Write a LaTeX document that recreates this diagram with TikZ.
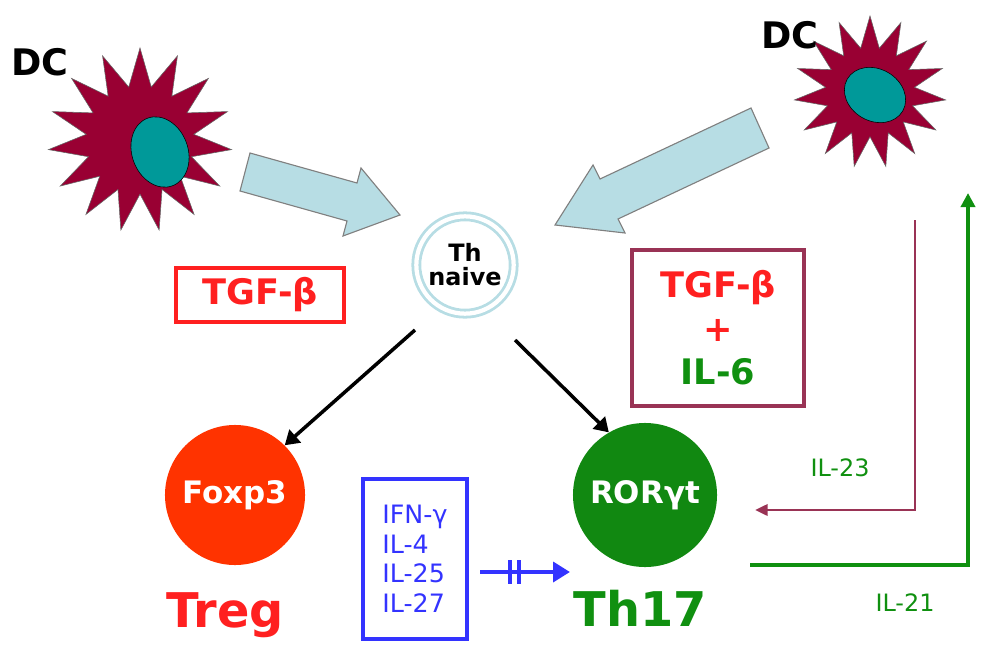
\documentclass[tikz,border=0pt]{standalone}
\usepackage{fontspec}
\setmainfont{DejaVu Sans}
\usetikzlibrary{shapes.geometric,arrows.meta}
\definecolor{dcred}{HTML}{990033}
\definecolor{nucl}{HTML}{009999}
\definecolor{lblue}{HTML}{B7DDE4}
\definecolor{maroon}{HTML}{993355}
\definecolor{tred}{HTML}{FF2020}
\definecolor{tgreen}{HTML}{109010}
\definecolor{fox}{HTML}{FF3300}
\definecolor{ror}{HTML}{118811}
\definecolor{tblue}{HTML}{3333FF}
\newcommand{\fs}[1]{\fontsize{#1}{#1}\selectfont}
\tikzset{
  dc cell/.style={star,star points=15,star point ratio=1.7,fill=dcred,draw=black!60,inner sep=0pt},
  nucleus/.style={ellipse,fill=nucl,draw=black,thin},
  big arrow/.style={fill=lblue,draw=black!50,line width=0.8pt},
  path arrow/.style={line width=2.5pt,-{Triangle[length=10pt,width=12pt]}},
  label box/.style={draw,line width=2.5pt,fill=white},
}
\begin{document}
\begin{tikzpicture}[x=0.025cm,y=-0.025cm,font=\bfseries]
\useasboundingbox (0,0) rectangle (1004,656);
% dendritic cells
\node[dc cell,minimum size=4.6cm] (dcl) at (140,140) {};
\node[nucleus,minimum width=1.4cm,minimum height=1.8cm,rotate=20] (nl) at (160,152) {};
\node[font=\fs{26}\bfseries] (dcltxt) at (40,62) {DC};
\node[dc cell,minimum size=3.8cm] (dcr) at (870,92) {};
\node[nucleus,minimum width=1.3cm,minimum height=1.6cm,rotate=60] (nr) at (875,95) {};
\node[font=\fs{26}\bfseries] (dcrtxt) at (790,35) {DC};
% signals into naive cell
\draw[big arrow] (240,191) -- (347,221) -- (343,236) -- (400,215) -- (361,168) -- (357,183) -- (250,153) -- cycle;
\draw[big arrow] (769,148) -- (618,219) -- (625,233) -- (555,225) -- (593,165) -- (600,179) -- (751,108) -- cycle;
\node[circle,draw=lblue,double=white,double distance=3pt,line width=2pt,minimum size=2.2cm,
  align=center,font=\fs{17}\bfseries] (th) at (465,265) {Th\\naive};
\node[label box,draw=tred,text=tred,font=\fs{25}\bfseries,minimum width=4.2cm,minimum height=1.35cm] (tgf) at (260,295) {TGF-β};
\node[label box,draw=maroon,minimum width=4.3cm,minimum height=3.9cm,align=center,font=\fs{25}\bfseries] (mix) at (718,328)
  {\textcolor{tred}{TGF-β}\\[6pt]\textcolor{tred}{+}\\[6pt]\textcolor{tgreen}{IL-6}};
% fates
\node[circle,fill=fox,minimum size=3.5cm,text=white,font=\fs{22}\bfseries] (treg) at (235,495) {Foxp3};
\node[text=tred,font=\fs{34}\bfseries] (tregtxt) at (225,615) {Treg};
\node[circle,fill=ror,minimum size=3.6cm,text=white,font=\fs{22}\bfseries] (th17) at (645,495) {RORγt};
\node[text=tgreen,font=\fs{34}\bfseries] (th17txt) at (640,608) {Th17};
\node[label box,draw=tblue,text=tblue,align=left,font=\fs{18},minimum width=2.6cm,minimum height=4cm] (inh) at (415,559)
  {IFN-γ\\[3pt]IL-4\\[3pt]IL-25\\[3pt]IL-27};
\coordinate (thl) at (415,330);
\coordinate (thr) at (515,340);
\draw[path arrow] (thl) -- (treg.45);
\draw[path arrow] (thr) -- (th17.120);
% blocked arrow
\coordinate (bs) at (480,572);
\coordinate (be) at (570,572);
\draw[tblue,line width=3pt,-{Triangle[length=12pt,width=14pt]}] (bs) -- (be);
\draw[tblue,line width=2.5pt] (510,560) -- (510,584) (519,560) -- (519,584);
% feedback loops
\coordinate (m1) at (915,220);
\coordinate (m2) at (915,510);
\coordinate (m3) at (755,510);
\draw[maroon,line width=2pt,-{Triangle[length=9pt,width=8pt]}] (m1) -- (m2) -- (m3);
\node[text=tgreen,font=\fs{17}] (il23) at (840,468) {IL-23};
\coordinate (g1) at (750,565);
\coordinate (g2) at (968,565);
\coordinate (g3) at (968,193);
\draw[tgreen,line width=2.5pt,-{Triangle[length=10pt,width=10pt]}] (g1) -- (g2) -- (g3);
\node[text=tgreen,font=\fs{17}] (il21) at (905,603) {IL-21};
\end{tikzpicture}
\end{document}
